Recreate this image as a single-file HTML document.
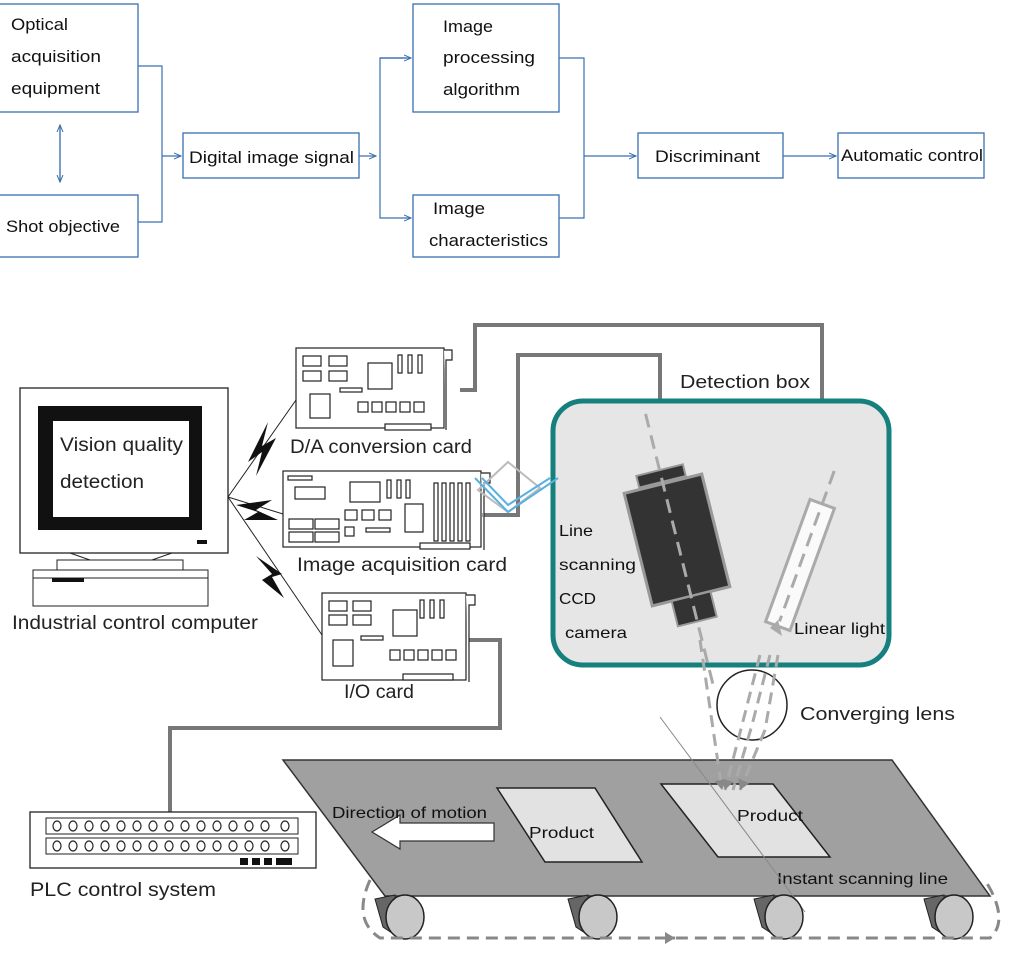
<!DOCTYPE html>
<html><head><meta charset="utf-8"><style>
html,body{margin:0;padding:0;background:#fff;}
svg{display:block;font-family:"Liberation Sans",Arial,sans-serif;}
</style></head><body>
<svg width="1024" height="972" viewBox="0 0 1024 972" xmlns="http://www.w3.org/2000/svg">
<defs>
<marker id="ab" markerWidth="8" markerHeight="8" refX="7" refY="4" orient="auto" markerUnits="userSpaceOnUse"><path d="M0,1 L7,4 L0,7" fill="none" stroke="#3a6fb0" stroke-width="1"/></marker>
<marker id="ag" markerWidth="12" markerHeight="12" refX="10" refY="6" orient="auto" markerUnits="userSpaceOnUse"><path d="M0,0 L10,6 L0,12 z" fill="#888"/></marker>
</defs>
<g fill="#fff" stroke="#3a6fb0" stroke-width="1.3">
<rect x="-1" y="4" width="139" height="108"/>
<rect x="-1" y="195" width="139" height="62"/>
<rect x="183" y="133" width="176" height="45"/>
<rect x="413" y="4" width="146" height="108"/>
<rect x="413" y="195" width="146" height="62"/>
<rect x="638" y="133" width="145" height="45"/>
<rect x="838" y="133" width="146" height="45"/>
</g>
<g fill="none" stroke="#3a6fb0" stroke-width="1.2">
<path d="M138,66 H162 V222 H138"/>
<path d="M162,156 H181" marker-end="url(#ab)"/>
<path d="M60,182 V125" marker-end="url(#ab)"/>
<path d="M60,125 V182" marker-end="url(#ab)"/>
<path d="M359,156 H376" marker-end="url(#ab)"/>
<path d="M406,58 H380 V218 H411" marker-end="url(#ab)"/>
<path d="M380,58 H411" marker-end="url(#ab)"/>
<path d="M559,58 H584 V218 H559"/>
<path d="M584,156 H636" marker-end="url(#ab)"/>
<path d="M783,156 H836" marker-end="url(#ab)"/>
</g>
<g font-size="17" fill="#111">
<text x="11" y="30" textLength="57" lengthAdjust="spacingAndGlyphs">Optical</text>
<text x="11" y="62" textLength="90" lengthAdjust="spacingAndGlyphs">acquisition</text>
<text x="11" y="94" textLength="89" lengthAdjust="spacingAndGlyphs">equipment</text>
<text x="6" y="232" textLength="114" lengthAdjust="spacingAndGlyphs">Shot objective</text>
<text x="189" y="163" textLength="165" lengthAdjust="spacingAndGlyphs">Digital image signal</text>
<text x="443" y="32" textLength="50" lengthAdjust="spacingAndGlyphs">Image</text>
<text x="443" y="63" textLength="92" lengthAdjust="spacingAndGlyphs">processing</text>
<text x="443" y="95" textLength="77" lengthAdjust="spacingAndGlyphs">algorithm</text>
<text x="433" y="214" textLength="52" lengthAdjust="spacingAndGlyphs">Image</text>
<text x="429" y="246" textLength="119" lengthAdjust="spacingAndGlyphs">characteristics</text>
<text x="655" y="162" textLength="105" lengthAdjust="spacingAndGlyphs">Discriminant</text>
<text x="841" y="161" textLength="142" lengthAdjust="spacingAndGlyphs">Automatic control</text>
</g>

<g fill="none" stroke="#777" stroke-width="4">
<path d="M460,390 H475 V325 H822 V500"/>
<path d="M482,515 H518 V355 H660 V470"/>
<path d="M468,640 H500 V728 H170 V812"/>
</g>

<rect x="553" y="401" width="336" height="264" rx="30" fill="#e6e6e6" stroke="#16807e" stroke-width="5"/>
<text x="680" y="388" font-size="18" fill="#222" textLength="130" lengthAdjust="spacingAndGlyphs">Detection box</text>
<g transform="translate(677,540) rotate(-14)">
<rect x="-40" y="-58" width="80" height="116" fill="#333" stroke="#999" stroke-width="3"/>
<rect x="-24" y="-72" width="48" height="12" fill="#333" stroke="#999" stroke-width="2"/>
<rect x="-20" y="58" width="40" height="26" fill="#333" stroke="#999" stroke-width="2"/>
<line x1="0" y1="-130" x2="0" y2="150" stroke="#aaa" stroke-width="3" stroke-dasharray="14,8"/>
</g>
<g transform="translate(800,565) rotate(20)">
<rect x="-13" y="-65" width="26" height="130" fill="#fafafa" stroke="#aaa" stroke-width="3"/>
<line x1="0" y1="-100" x2="0" y2="60" stroke="#aaa" stroke-width="3" stroke-dasharray="14,8"/>
</g>
<path d="M770,628 L778,620 L782,636 z" fill="#aaa"/>
<g font-size="16" fill="#111">
<text x="559" y="536" textLength="34" lengthAdjust="spacingAndGlyphs">Line</text>
<text x="559" y="570" textLength="77" lengthAdjust="spacingAndGlyphs">scanning</text>
<text x="559" y="604" textLength="37" lengthAdjust="spacingAndGlyphs">CCD</text>
<text x="565" y="638" textLength="62" lengthAdjust="spacingAndGlyphs">camera</text>
<text x="794" y="634" textLength="91" lengthAdjust="spacingAndGlyphs">Linear light</text>
</g>

<polygon points="283,760 892,760 990,896 385,896" fill="#a0a0a0" stroke="#333" stroke-width="1.5"/>
<polygon points="497,788 595,788 642,862 545,862" fill="#e2e2e2" stroke="#222" stroke-width="1.5"/>
<polygon points="661,784 773,784 830,857 718,857" fill="#e2e2e2" stroke="#222" stroke-width="1.5"/>
<text x="529" y="838" font-size="16" fill="#111" textLength="65" lengthAdjust="spacingAndGlyphs">Product</text>
<text x="737" y="821" font-size="16" fill="#111" textLength="66" lengthAdjust="spacingAndGlyphs">Product</text>
<path d="M494,823 H400 V815 L372,832 L400,849 V841 H494 z" fill="#fff" stroke="#333" stroke-width="1.2"/>
<text x="332" y="818" font-size="16" fill="#111" textLength="155" lengthAdjust="spacingAndGlyphs">Direction of motion</text>
<text x="777" y="884" font-size="16" fill="#111" textLength="171" lengthAdjust="spacingAndGlyphs">Instant scanning line</text>
<line x1="660" y1="717" x2="805" y2="912" stroke="#888" stroke-width="1"/>

<circle cx="752" cy="705" r="35" fill="none" stroke="#222" stroke-width="1.5"/>
<g stroke="#aaa" stroke-width="3" fill="none" stroke-dasharray="12,7">
<path d="M700,640 L722,790" marker-end="url(#ag)"/>
<path d="M760,655 L742,725 L725,790" marker-end="url(#ag)"/>
<path d="M770,655 L752,725 L733,790"/>
<path d="M778,655 L765,730 L740,790" marker-end="url(#ag)"/>
</g>
<text x="800" y="720" font-size="18" fill="#222" textLength="155" lengthAdjust="spacingAndGlyphs">Converging lens</text>

<g>
<g transform="translate(405,917)"><path d="M-30,-18 L-10,-22 L-10,18 L-22,10 z" fill="#666" stroke="#222"/><ellipse cx="0" cy="0" rx="19" ry="22" fill="#c8c8c8" stroke="#222" stroke-width="1.5"/></g>
<g transform="translate(598,917)"><path d="M-30,-18 L-10,-22 L-10,18 L-22,10 z" fill="#666" stroke="#222"/><ellipse cx="0" cy="0" rx="19" ry="22" fill="#c8c8c8" stroke="#222" stroke-width="1.5"/></g>
<g transform="translate(784,917)"><path d="M-30,-18 L-10,-22 L-10,18 L-22,10 z" fill="#666" stroke="#222"/><ellipse cx="0" cy="0" rx="19" ry="22" fill="#c8c8c8" stroke="#222" stroke-width="1.5"/></g>
<g transform="translate(954,917)"><path d="M-30,-18 L-10,-22 L-10,18 L-22,10 z" fill="#666" stroke="#222"/><ellipse cx="0" cy="0" rx="19" ry="22" fill="#c8c8c8" stroke="#222" stroke-width="1.5"/></g>
</g>
<path d="M370,880 Q352,920 380,938 H990 Q1010,920 985,880" fill="none" stroke="#888" stroke-width="3" stroke-dasharray="12,7"/>
<path d="M655,938 H675" stroke="#888" stroke-width="3" marker-end="url(#ag)"/>

<rect x="30" y="812" width="286" height="56" fill="#fff" stroke="#222" stroke-width="1.3"/>
<rect x="46" y="818" width="252" height="16" fill="#fff" stroke="#222"/>
<rect x="46" y="838" width="252" height="16" fill="#fff" stroke="#222"/>
<g fill="none" stroke="#222" stroke-width="1.2">
<g id="r1">
<ellipse cx="57" cy="826" rx="4" ry="5"/><ellipse cx="73" cy="826" rx="4" ry="5"/><ellipse cx="89" cy="826" rx="4" ry="5"/><ellipse cx="105" cy="826" rx="4" ry="5"/><ellipse cx="121" cy="826" rx="4" ry="5"/><ellipse cx="137" cy="826" rx="4" ry="5"/><ellipse cx="153" cy="826" rx="4" ry="5"/><ellipse cx="169" cy="826" rx="4" ry="5"/><ellipse cx="185" cy="826" rx="4" ry="5"/><ellipse cx="201" cy="826" rx="4" ry="5"/><ellipse cx="217" cy="826" rx="4" ry="5"/><ellipse cx="233" cy="826" rx="4" ry="5"/><ellipse cx="249" cy="826" rx="4" ry="5"/><ellipse cx="265" cy="826" rx="4" ry="5"/><ellipse cx="285" cy="826" rx="4" ry="5"/>
</g>
<use href="#r1" y="20"/>
</g>
<rect x="240" y="858" width="8" height="7" fill="#111"/><rect x="252" y="858" width="8" height="7" fill="#111"/><rect x="264" y="858" width="8" height="7" fill="#111"/><rect x="276" y="858" width="16" height="7" fill="#111"/>
<text x="30" y="896" font-size="19" fill="#222" textLength="186" lengthAdjust="spacingAndGlyphs">PLC control system</text>

<rect x="20" y="388" width="208" height="165" fill="#fff" stroke="#222" stroke-width="1.3"/>
<rect x="38" y="406" width="164" height="124" fill="#111"/>
<rect x="53" y="421" width="136" height="96" fill="#fff"/>
<rect x="197" y="540" width="10" height="4" fill="#111"/>
<path d="M70,553 L90,560 H152 L172,553" fill="none" stroke="#222"/>
<rect x="57" y="560" width="126" height="10" fill="#fff" stroke="#222"/>
<rect x="33" y="570" width="175" height="36" fill="#fff" stroke="#222"/>
<line x1="33" y1="578" x2="208" y2="578" stroke="#222"/>
<rect x="52" y="578" width="32" height="4" fill="#111"/>
<text x="60" y="451" font-size="19" fill="#222" textLength="123" lengthAdjust="spacingAndGlyphs">Vision quality</text>
<text x="60" y="488" font-size="19" fill="#222" textLength="84" lengthAdjust="spacingAndGlyphs">detection</text>
<text x="12" y="629" font-size="19" fill="#222" textLength="246" lengthAdjust="spacingAndGlyphs">Industrial control computer</text>

<g fill="none" stroke="#222" stroke-width="1">
<path d="M228,497 L296,400"/>
<path d="M228,497 L283,514"/>
<path d="M228,497 L322,635"/>
</g>
<g fill="#111">
<path d="M248,462 L268,422 L262,446 L276,438 L256,476 L262,452 z"/>
<path d="M236,505 L272,500 L256,510 L278,520 L244,520 L258,512 z"/>
<path d="M256,556 L282,574 L272,577 L284,598 L262,580 L272,574 z"/>
</g>

<g fill="#fff" stroke="#222" stroke-width="1.2">
<rect x="296" y="348" width="148" height="80"/>
<path d="M444,350 H452 V360 H446 V430"/>
<rect x="303" y="356" width="18" height="10"/><rect x="329" y="356" width="18" height="10"/><rect x="303" y="371" width="18" height="10"/><rect x="329" y="371" width="18" height="10"/>
<rect x="368" y="363" width="24" height="26"/><rect x="398" y="355" width="4" height="18"/><rect x="408" y="355" width="4" height="18"/><rect x="418" y="355" width="4" height="18"/>
<rect x="340" y="388" width="22" height="4"/><rect x="310" y="394" width="20" height="24"/>
<rect x="358" y="402" width="10" height="10"/><rect x="372" y="402" width="10" height="10"/><rect x="386" y="402" width="10" height="10"/><rect x="400" y="402" width="10" height="10"/><rect x="414" y="402" width="10" height="10"/>
<rect x="385" y="424" width="46" height="6"/>
<rect x="283" y="471" width="198" height="76"/>
<path d="M481,473 H490 V483 H484 V550"/>
<rect x="288" y="476" width="24" height="4"/><rect x="295" y="487" width="30" height="12"/>
<rect x="350" y="482" width="30" height="20"/><rect x="387" y="480" width="4" height="18"/><rect x="397" y="480" width="4" height="18"/><rect x="406" y="480" width="4" height="18"/>
<rect x="289" y="519" width="24" height="10"/><rect x="315" y="519" width="24" height="10"/><rect x="289" y="532" width="24" height="10"/><rect x="315" y="532" width="24" height="10"/>
<rect x="345" y="510" width="12" height="10"/><rect x="362" y="510" width="12" height="10"/><rect x="379" y="510" width="12" height="10"/><rect x="345" y="527" width="9" height="9"/><rect x="366" y="528" width="24" height="4"/>
<rect x="405" y="504" width="18" height="28"/>
<rect x="434" y="483" width="4" height="58"/><rect x="442" y="483" width="4" height="58"/><rect x="450" y="483" width="4" height="58"/><rect x="458" y="483" width="4" height="58"/><rect x="466" y="483" width="4" height="58"/>
<rect x="420" y="543" width="50" height="6"/>
<rect x="322" y="593" width="144" height="87"/>
<path d="M466,595 H475 V605 H469 V682"/>
<rect x="329" y="601" width="18" height="10"/><rect x="353" y="601" width="18" height="10"/><rect x="329" y="615" width="18" height="10"/><rect x="353" y="615" width="18" height="10"/>
<rect x="393" y="610" width="24" height="26"/><rect x="420" y="600" width="4" height="18"/><rect x="430" y="600" width="4" height="18"/><rect x="440" y="600" width="4" height="18"/>
<rect x="361" y="636" width="22" height="4"/><rect x="333" y="640" width="20" height="26"/>
<rect x="390" y="650" width="10" height="10"/><rect x="404" y="650" width="10" height="10"/><rect x="418" y="650" width="10" height="10"/><rect x="432" y="650" width="10" height="10"/><rect x="446" y="650" width="10" height="10"/>
<rect x="403" y="674" width="50" height="6"/>
</g>
<g font-size="19" fill="#222">
<text x="290" y="453" textLength="182" lengthAdjust="spacingAndGlyphs">D/A conversion card</text>
<text x="297" y="571" textLength="210" lengthAdjust="spacingAndGlyphs">Image acquisition card</text>
<text x="344" y="698" textLength="70" lengthAdjust="spacingAndGlyphs">I/O card</text>
</g>
<g fill="none" stroke-width="2">
<path d="M478,490 L508,462 L540,488 L508,512 z" stroke="#bbb"/>
<path d="M475,478 L508,512 L558,478" stroke="#5ab0e0"/>
<path d="M482,478 L508,505 L550,478" stroke="#5ab0e0"/>
</g>
</svg>
</body></html>
